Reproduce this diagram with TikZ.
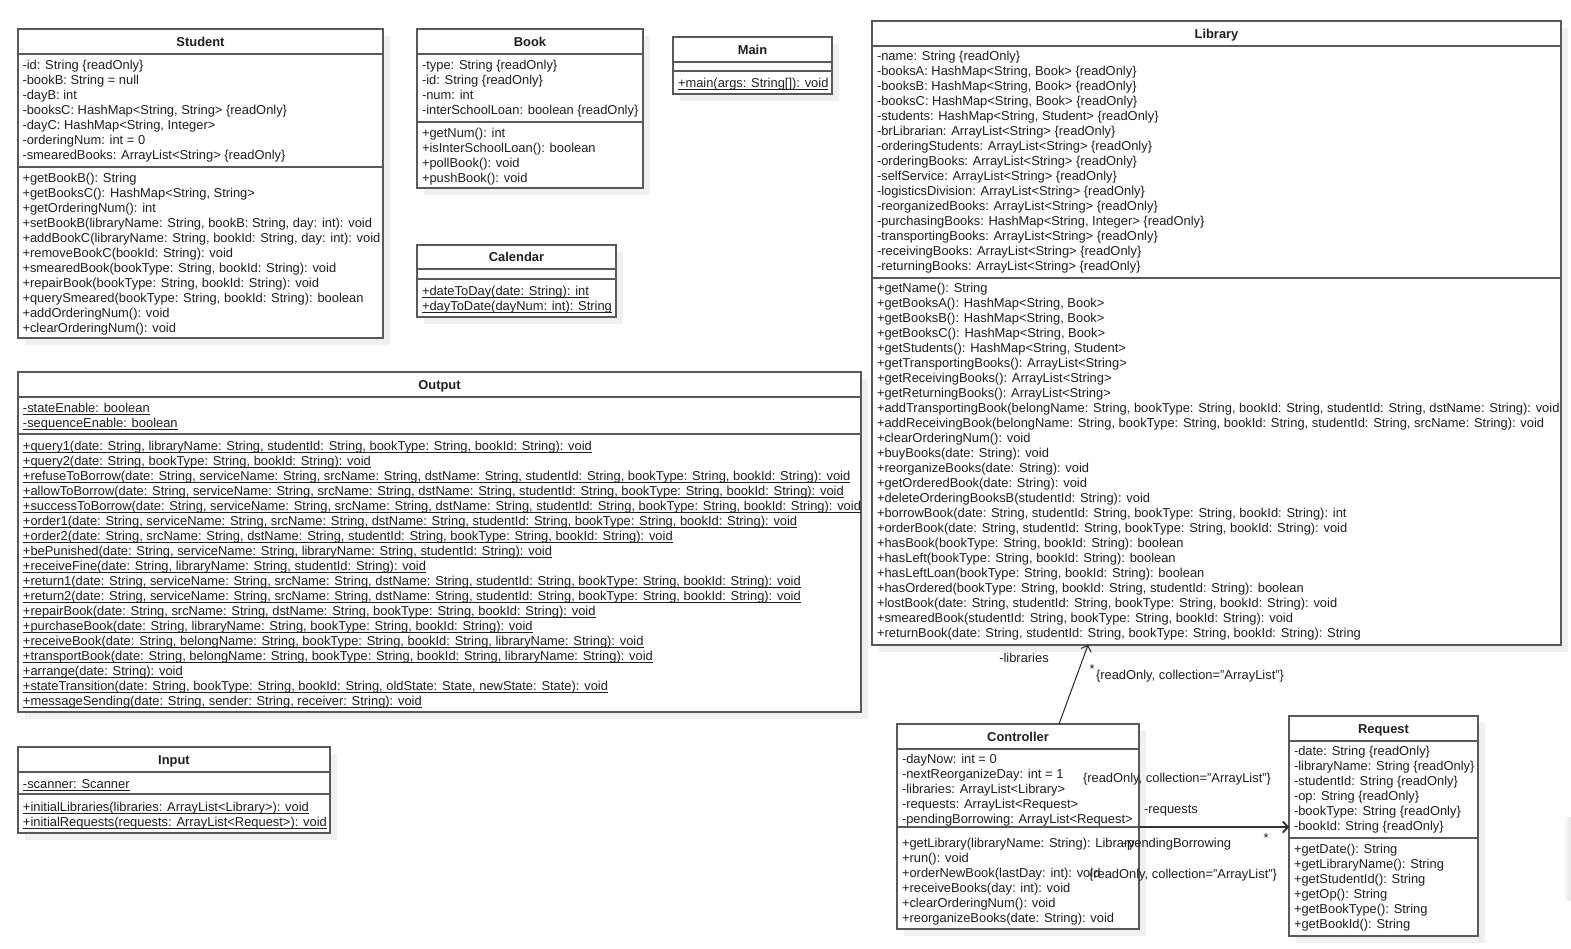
\documentclass[tikz,border=0pt]{standalone}
\usepackage{fontspec}
\setmainfont{Liberation Sans}
\usetikzlibrary{arrows.meta,fit,calc}
\newsavebox\ulbox
\newcommand\ulx[1]{\sbox\ulbox{#1}\rlap{\rule[-2.2pt]{\wd\ulbox}{0.75pt}}\usebox\ulbox}
\tikzset{
  txt/.style={font=\fontsize{12.9}{15}\selectfont, text=black!88, inner sep=0pt, outer sep=0pt},
  members/.style={txt, anchor=north west, align=left},
  classtitle/.style={txt, font=\fontsize{12.9}{15}\selectfont\bfseries, text height=9.2pt, text depth=0pt},
  lbl/.style={txt, text height=9.4pt, text depth=0pt},
  classbox/.style={draw=black!65, line width=1.2pt, fill=white, inner sep=0pt, outer sep=0pt},
  sepline/.style={draw=black!65, line width=1.2pt},
  shadowfill/.style={fill=black!6},
  assoc/.style={draw=black!85, line width=1pt, -{Straight Barb[length=5pt,width=11pt]}},
}
% #1 name, #2 x1, #3 y1, #4 x2, #5 y2, #6 header line y, #7 separator y, #8 title
\newcommand\umlclass[8]{%
  \fill[shadowfill] ({#2+7},{#3+7}) rectangle ({#4+7},{#5+7});
  \node[classbox, fit={(#2,#3) (#4,#5)}] (#1) {};
  \draw[sepline] (#2,#6) -- (#4,#6);
  \draw[sepline] (#2,#7) -- (#4,#7);
  \node[classtitle] (#1-title) at ({(#2+#4)/2},{(#3+#6)/2}) {#8};
}
% #1 name, #2 x, #3 centre y of first line, #4 lines
\newcommand\mem[4]{\node[members] (#1) at ({#2},{#3-6}) {\strut#4};}
\begin{document}
\begin{tikzpicture}[x=1pt,y=-1pt]
\useasboundingbox (0,0) rectangle (1571,948);
\shade[left color=white, right color=black!10] (1563,817) rectangle (1571,900);

% Student
\umlclass{student}{18}{29}{383}{338}{54}{167}{Student}
\mem{student-a}{22.5}{65}{-id: String \{readOnly\}\\
-bookB: String = null\\
-dayB: int\\
-booksC: HashMap<String, String> \{readOnly\}\\
-dayC: HashMap<String, Integer>\\
-orderingNum: int = 0\\
-smearedBooks: ArrayList<String> \{readOnly\}}
\mem{student-m}{22.5}{178}{+getBookB(): String\\
+getBooksC(): HashMap<String, String>\\
+getOrderingNum(): int\\
+setBookB(libraryName: String, bookB: String, day: int): void\\
+addBookC(libraryName: String, bookId: String, day: int): void\\
+removeBookC(bookId: String): void\\
+smearedBook(bookType: String, bookId: String): void\\
+repairBook(bookType: String, bookId: String): void\\
+querySmeared(bookType: String, bookId: String): boolean\\
+addOrderingNum(): void\\
+clearOrderingNum(): void}

% Book
\umlclass{book}{417}{29}{643}{188}{54}{122}{Book}
\mem{book-a}{422}{65}{-type: String \{readOnly\}\\
-id: String \{readOnly\}\\
-num: int\\
-interSchoolLoan: boolean \{readOnly\}}
\mem{book-m}{422}{133}{+getNum(): int\\
+isInterSchoolLoan(): boolean\\
+pollBook(): void\\
+pushBook(): void}

% Main
\umlclass{main}{673}{37}{832}{94}{62}{71}{Main}
\mem{main-m}{678}{83}{\ulx{+main(args: String[]): void}}

% Calendar
\umlclass{calendar}{417}{245}{616}{317}{269}{279}{Calendar}
\mem{calendar-m}{422}{291}{\ulx{+dateToDay(date: String): int}\\
\ulx{+dayToDate(dayNum: int): String}}

% Library
\umlclass{library}{872}{21}{1561}{645}{46}{278}{Library}
\mem{library-a}{877}{56}{-name: String \{readOnly\}\\
-booksA: HashMap<String, Book> \{readOnly\}\\
-booksB: HashMap<String, Book> \{readOnly\}\\
-booksC: HashMap<String, Book> \{readOnly\}\\
-students: HashMap<String, Student> \{readOnly\}\\
-brLibrarian: ArrayList<String> \{readOnly\}\\
-orderingStudents: ArrayList<String> \{readOnly\}\\
-orderingBooks: ArrayList<String> \{readOnly\}\\
-selfService: ArrayList<String> \{readOnly\}\\
-logisticsDivision: ArrayList<String> \{readOnly\}\\
-reorganizedBooks: ArrayList<String> \{readOnly\}\\
-purchasingBooks: HashMap<String, Integer> \{readOnly\}\\
-transportingBooks: ArrayList<String> \{readOnly\}\\
-receivingBooks: ArrayList<String> \{readOnly\}\\
-returningBooks: ArrayList<String> \{readOnly\}}
\mem{library-m}{877}{288}{+getName(): String\\
+getBooksA(): HashMap<String, Book>\\
+getBooksB(): HashMap<String, Book>\\
+getBooksC(): HashMap<String, Book>\\
+getStudents(): HashMap<String, Student>\\
+getTransportingBooks(): ArrayList<String>\\
+getReceivingBooks(): ArrayList<String>\\
+getReturningBooks(): ArrayList<String>\\
+addTransportingBook(belongName: String, bookType: String, bookId: String, studentId: String, dstName: String): void\\
+addReceivingBook(belongName: String, bookType: String, bookId: String, studentId: String, srcName: String): void\\
+clearOrderingNum(): void\\
+buyBooks(date: String): void\\
+reorganizeBooks(date: String): void\\
+getOrderedBook(date: String): void\\
+deleteOrderingBooksB(studentId: String): void\\
+borrowBook(date: String, studentId: String, bookType: String, bookId: String): int\\
+orderBook(date: String, studentId: String, bookType: String, bookId: String): void\\
+hasBook(bookType: String, bookId: String): boolean\\
+hasLeft(bookType: String, bookId: String): boolean\\
+hasLeftLoan(bookType: String, bookId: String): boolean\\
+hasOrdered(bookType: String, bookId: String, studentId: String): boolean\\
+lostBook(date: String, studentId: String, bookType: String, bookId: String): void\\
+smearedBook(studentId: String, bookType: String, bookId: String): void\\
+returnBook(date: String, studentId: String, bookType: String, bookId: String): String}

% Output
\umlclass{output}{18}{372}{861}{712}{397}{434}{Output}
\mem{output-a}{23}{408}{\ulx{-stateEnable: boolean}\\
\ulx{-sequenceEnable: boolean}}
\mem{output-m}{23}{446}{\ulx{+query1(date: String, libraryName: String, studentId: String, bookType: String, bookId: String): void}\\
\ulx{+query2(date: String, bookType: String, bookId: String): void}\\
\ulx{+refuseToBorrow(date: String, serviceName: String, srcName: String, dstName: String, studentId: String, bookType: String, bookId: String): void}\\
\ulx{+allowToBorrow(date: String, serviceName: String, srcName: String, dstName: String, studentId: String, bookType: String, bookId: String): void}\\
\ulx{+successToBorrow(date: String, serviceName: String, srcName: String, dstName: String, studentId: String, bookType: String, bookId: String): void}\\
\ulx{+order1(date: String, serviceName: String, srcName: String, dstName: String, studentId: String, bookType: String, bookId: String): void}\\
\ulx{+order2(date: String, srcName: String, dstName: String, studentId: String, bookType: String, bookId: String): void}\\
\ulx{+bePunished(date: String, serviceName: String, libraryName: String, studentId: String): void}\\
\ulx{+receiveFine(date: String, libraryName: String, studentId: String): void}\\
\ulx{+return1(date: String, serviceName: String, srcName: String, dstName: String, studentId: String, bookType: String, bookId: String): void}\\
\ulx{+return2(date: String, serviceName: String, srcName: String, dstName: String, studentId: String, bookType: String, bookId: String): void}\\
\ulx{+repairBook(date: String, srcName: String, dstName: String, bookType: String, bookId: String): void}\\
\ulx{+purchaseBook(date: String, libraryName: String, bookType: String, bookId: String): void}\\
\ulx{+receiveBook(date: String, belongName: String, bookType: String, bookId: String, libraryName: String): void}\\
\ulx{+transportBook(date: String, belongName: String, bookType: String, bookId: String, libraryName: String): void}\\
\ulx{+arrange(date: String): void}\\
\ulx{+stateTransition(date: String, bookType: String, bookId: String, oldState: State, newState: State): void}\\
\ulx{+messageSending(date: String, sender: String, receiver: String): void}}

% Input
\umlclass{input}{18}{747}{330}{833}{772}{794}{Input}
\mem{input-a}{23}{784}{\ulx{-scanner: Scanner}}
\mem{input-m}{23}{807}{\ulx{+initialLibraries(libraries: ArrayList<Library>): void}\\
\ulx{+initialRequests(requests: ArrayList<Request>): void}}

% Controller
\umlclass{controller}{897}{724}{1139}{929}{749}{827}{Controller}
\mem{controller-a}{902}{759}{-dayNow: int = 0\\
-nextReorganizeDay: int = 1\\
-libraries: ArrayList<Library>\\
-requests: ArrayList<Request>\\
-pendingBorrowing: ArrayList<Request>}
\mem{controller-m}{902}{843}{+getLibrary(libraryName: String): Library\\
+run(): void\\
+orderNewBook(lastDay: int): void\\
+receiveBooks(day: int): void\\
+clearOrderingNum(): void\\
+reorganizeBooks(date: String): void}

% Request
\umlclass{request}{1289}{716}{1478}{936}{741}{838}{Request}
\mem{request-a}{1294}{751}{-date: String \{readOnly\}\\
-libraryName: String \{readOnly\}\\
-studentId: String \{readOnly\}\\
-op: String \{readOnly\}\\
-bookType: String \{readOnly\}\\
-bookId: String \{readOnly\}}
\mem{request-m}{1294}{849}{+getDate(): String\\
+getLibraryName(): String\\
+getStudentId(): String\\
+getOp(): String\\
+getBookType(): String\\
+getBookId(): String}

% Associations
\coordinate (lvl) at (0,827);
\draw[assoc] ($(controller.north west)+(162,0)$) -- ($(library.south west)+(216,0)$);
\draw[assoc, line width=1.6pt, draw=black!80] (controller.east |- lvl) -- (request.west |- lvl);
\draw[assoc, line width=1.6pt, draw=black!80] (controller.east |- lvl) -- (request.west |- lvl);

% Association labels
\node[lbl] (l-libraries) at (1024,658) {-libraries};
\node[lbl] (l-star1) at (1092,669) {*};
\node[lbl] (l-ro1) at (1190,675) {\{readOnly, collection="ArrayList"\}};
\node[lbl] (l-ro2) at (1177,778) {\{readOnly, collection="ArrayList"\}};
\node[lbl] (l-requests) at (1171,809) {-requests};
\node[lbl] (l-star2) at (1266,838) {*};
\node[lbl] (l-pending) at (1177,843) {-pendingBorrowing};
\node[lbl] (l-ro3) at (1183,874) {\{readOnly, collection="ArrayList"\}};
\end{tikzpicture}
\end{document}
